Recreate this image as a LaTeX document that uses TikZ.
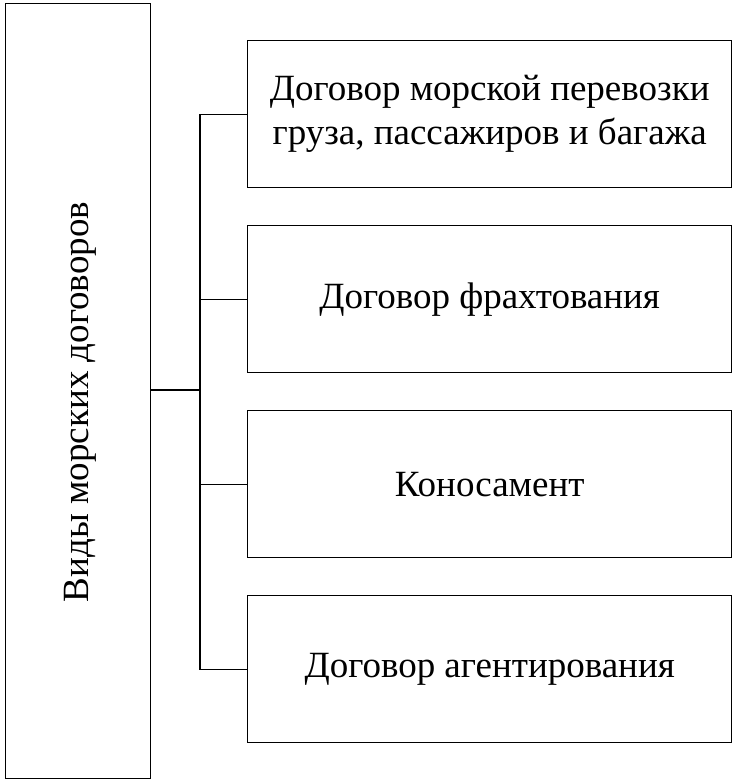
\documentclass[tikz,border=0pt]{standalone}
\usepackage{fontspec}
\setmainfont{Liberation Serif}
\begin{document}
\begin{tikzpicture}[x=1pt,y=-1pt,
  box/.style={draw,line width=1.4pt,inner sep=0pt,anchor=north west},
  lbl/.style={font=\fontsize{37}{44}\selectfont,align=center},
  conn/.style={line width=1.4pt}]
\useasboundingbox (0,0) rectangle (734,782);
\node[box,minimum width=145pt,minimum height=775pt] (L) at (5,3) {};
\node[lbl,rotate=90] at (80,402) {Виды морских договоров};
\node[box,minimum width=484pt,minimum height=147pt] (a) at (247,40) {};
\node[box,minimum width=484pt,minimum height=147pt] (b) at (247,225) {};
\node[box,minimum width=484pt,minimum height=147pt] (c) at (247,410) {};
\node[box,minimum width=484pt,minimum height=147pt] (d) at (247,595) {};
\node[lbl] at (a.center) {Договор морской перевозки\\груза, пассажиров и багажа};
\node[lbl] at (b.center) {Договор фрахтования};
\node[lbl] at (c.center) {Коносамент};
\node[lbl] at (d.center) {Договор агентирования};
\coordinate (t) at (200,390);
\draw[conn] (L.east |- t) -- (t);
\draw[conn] (a.west) -| (t |- a.west) -- (t |- d.west) -- (d.west);
\draw[conn] (b.west) -- (t |- b.west);
\draw[conn] (c.west) -- (t |- c.west);
\end{tikzpicture}
\end{document}
